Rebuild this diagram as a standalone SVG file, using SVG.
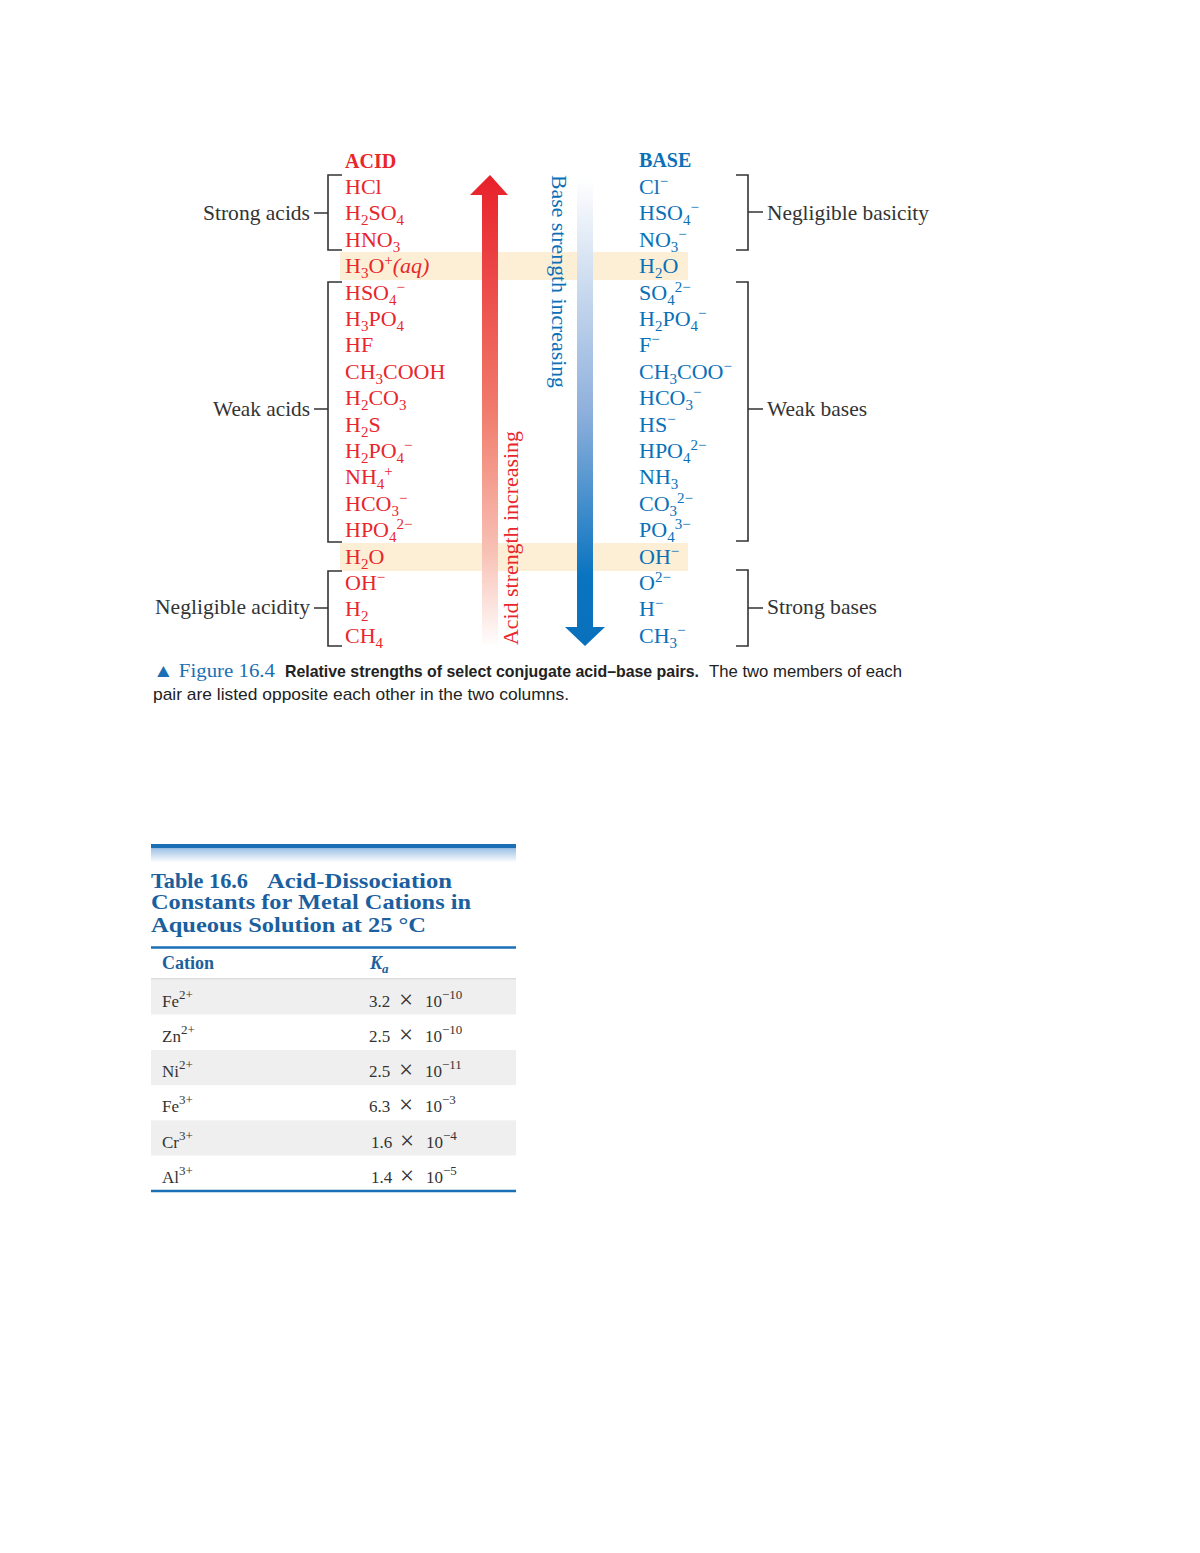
<svg xmlns="http://www.w3.org/2000/svg" width="1200" height="1553" viewBox="0 0 1200 1553">
<style>
.acid{font-family:"Liberation Serif",serif;font-size:22px;fill:#e8262b}
.base{font-family:"Liberation Serif",serif;font-size:22px;fill:#0a70b8}
.s{font-size:15px}
.hdr{font-weight:bold;font-size:20px}
.lbl{font-family:"Liberation Serif",serif;font-size:21px;fill:#333}
.br{fill:none;stroke:#333;stroke-width:1.6}
.hl{fill:#fcefd6}
.cap{font-family:"Liberation Sans",sans-serif;font-size:17px;fill:#222}
.tt{font-family:"Liberation Serif",serif;font-weight:bold;font-size:20px;fill:#1c5f9e}
.th{font-family:"Liberation Serif",serif;font-weight:bold;font-size:18px;fill:#1c5f9e}
.td{font-family:"Liberation Serif",serif;font-size:17px;fill:#333}
.sp{font-size:13px}
.x{font-size:25px}
.band{fill:#efefef}
</style>
<defs>
<linearGradient id="gRed" gradientUnits="userSpaceOnUse" x1="0" y1="175" x2="0" y2="648">
<stop offset="0" stop-color="#e8202a"/>
<stop offset="0.5" stop-color="#f07c6c"/>
<stop offset="0.8" stop-color="#f8c2b6"/>
<stop offset="1" stop-color="#ffffff"/>
</linearGradient>
<linearGradient id="gBlue" gradientUnits="userSpaceOnUse" x1="0" y1="178" x2="0" y2="646">
<stop offset="0" stop-color="#ffffff"/>
<stop offset="0.5" stop-color="#8eb0dc"/>
<stop offset="0.85" stop-color="#0a74c0"/>
<stop offset="1" stop-color="#0a70bc"/>
</linearGradient>
<linearGradient id="gBar" x1="0" y1="0" x2="0" y2="1">
<stop offset="0" stop-color="#9fc2e6"/>
<stop offset="1" stop-color="#ffffff"/>
</linearGradient>
</defs>

<g id="highlights">
<rect class="hl" x="340" y="252" width="348" height="28"/>
<rect class="hl" x="340" y="543" width="348" height="28"/>
</g>

<g id="connectors">
<path id="acid-arrow" d="M490,175 L508,195 L498,195 L498,645 L482,645 L482,195 L470,195 Z" fill="url(#gRed)"/>
<path id="base-arrow" d="M577,178 L593,178 L593,627 L605,627 L585,646 L565,627 L577,627 Z" fill="url(#gBlue)"/>
<path class="br" d="M342,175 H328 V250 H342 M328,213 H314"/>
<path class="br" d="M342,282 H328 V542 H342 M328,409 H314"/>
<path class="br" d="M342,571 H328 V646 H342 M328,608 H314"/>
<path class="br" d="M736,175 H748 V250 H736 M748,212 H763"/>
<path class="br" d="M736,282 H748 V541 H736 M748,409 H763"/>
<path class="br" d="M736,570 H748 V646 H736 M748,608 H763"/>
</g>

<g id="arrow-labels">
<text transform="translate(518,645) rotate(-90)" font-family="Liberation Serif,serif" font-size="21" fill="#e8262b" textLength="214" lengthAdjust="spacingAndGlyphs">Acid strength increasing</text>
<text transform="translate(552,175) rotate(90)" font-family="Liberation Serif,serif" font-size="21" fill="#0a70b8" textLength="213" lengthAdjust="spacingAndGlyphs">Base strength increasing</text>
</g>

<g id="group-labels">
<text class="lbl" x="203" y="220" textLength="107" lengthAdjust="spacingAndGlyphs">Strong acids</text>
<text class="lbl" x="213" y="416" textLength="97" lengthAdjust="spacingAndGlyphs">Weak acids</text>
<text class="lbl" x="155" y="614" textLength="155" lengthAdjust="spacingAndGlyphs">Negligible acidity</text>
<text class="lbl" x="767" y="220" textLength="162" lengthAdjust="spacingAndGlyphs">Negligible basicity</text>
<text class="lbl" x="767" y="416" textLength="100" lengthAdjust="spacingAndGlyphs">Weak bases</text>
<text class="lbl" x="767" y="614" textLength="110" lengthAdjust="spacingAndGlyphs">Strong bases</text>
</g>

<g id="acid-column">
<text class="acid hdr" x="345" y="168">ACID</text>
<text class="acid" x="345" y="194">HCl</text>
<text class="acid" x="345" y="220">H<tspan class="s" dy="5">2</tspan><tspan dy="-5">SO</tspan><tspan class="s" dy="5">4</tspan></text>
<text class="acid" x="345" y="247">HNO<tspan class="s" dy="5">3</tspan></text>
<text class="acid" x="345" y="273">H<tspan class="s" dy="5">3</tspan><tspan dy="-5">O</tspan><tspan class="s" dy="-8">+</tspan><tspan dy="8" font-style="italic">(aq)</tspan></text>
<text class="acid" x="345" y="300">HSO<tspan class="s" dy="5">4</tspan><tspan class="s" dy="-13">−</tspan></text>
<text class="acid" x="345" y="326">H<tspan class="s" dy="5">3</tspan><tspan dy="-5">PO</tspan><tspan class="s" dy="5">4</tspan></text>
<text class="acid" x="345" y="352">HF</text>
<text class="acid" x="345" y="379">CH<tspan class="s" dy="5">3</tspan><tspan dy="-5">COOH</tspan></text>
<text class="acid" x="345" y="405">H<tspan class="s" dy="5">2</tspan><tspan dy="-5">CO</tspan><tspan class="s" dy="5">3</tspan></text>
<text class="acid" x="345" y="432">H<tspan class="s" dy="5">2</tspan><tspan dy="-5">S</tspan></text>
<text class="acid" x="345" y="458">H<tspan class="s" dy="5">2</tspan><tspan dy="-5">PO</tspan><tspan class="s" dy="5">4</tspan><tspan class="s" dy="-13">−</tspan></text>
<text class="acid" x="345" y="484">NH<tspan class="s" dy="5">4</tspan><tspan class="s" dy="-13">+</tspan></text>
<text class="acid" x="345" y="511">HCO<tspan class="s" dy="5">3</tspan><tspan class="s" dy="-13">−</tspan></text>
<text class="acid" x="345" y="537">HPO<tspan class="s" dy="5">4</tspan><tspan class="s" dy="-13">2−</tspan></text>
<text class="acid" x="345" y="564">H<tspan class="s" dy="5">2</tspan><tspan dy="-5">O</tspan></text>
<text class="acid" x="345" y="590">OH<tspan class="s" dy="-8">−</tspan></text>
<text class="acid" x="345" y="616">H<tspan class="s" dy="5">2</tspan></text>
<text class="acid" x="345" y="643">CH<tspan class="s" dy="5">4</tspan></text>
</g>

<g id="base-column">
<text class="base hdr" x="639" y="167">BASE</text>
<text class="base" x="639" y="194">Cl<tspan class="s" dy="-8">−</tspan></text>
<text class="base" x="639" y="220">HSO<tspan class="s" dy="5">4</tspan><tspan class="s" dy="-13">−</tspan></text>
<text class="base" x="639" y="247">NO<tspan class="s" dy="5">3</tspan><tspan class="s" dy="-13">−</tspan></text>
<text class="base" x="639" y="273">H<tspan class="s" dy="5">2</tspan><tspan dy="-5">O</tspan></text>
<text class="base" x="639" y="300">SO<tspan class="s" dy="5">4</tspan><tspan class="s" dy="-13">2−</tspan></text>
<text class="base" x="639" y="326">H<tspan class="s" dy="5">2</tspan><tspan dy="-5">PO</tspan><tspan class="s" dy="5">4</tspan><tspan class="s" dy="-13">−</tspan></text>
<text class="base" x="639" y="352">F<tspan class="s" dy="-8">−</tspan></text>
<text class="base" x="639" y="379">CH<tspan class="s" dy="5">3</tspan><tspan dy="-5">COO</tspan><tspan class="s" dy="-8">−</tspan></text>
<text class="base" x="639" y="405">HCO<tspan class="s" dy="5">3</tspan><tspan class="s" dy="-13">−</tspan></text>
<text class="base" x="639" y="432">HS<tspan class="s" dy="-8">−</tspan></text>
<text class="base" x="639" y="458">HPO<tspan class="s" dy="5">4</tspan><tspan class="s" dy="-13">2−</tspan></text>
<text class="base" x="639" y="484">NH<tspan class="s" dy="5">3</tspan></text>
<text class="base" x="639" y="511">CO<tspan class="s" dy="5">3</tspan><tspan class="s" dy="-13">2−</tspan></text>
<text class="base" x="639" y="537">PO<tspan class="s" dy="5">4</tspan><tspan class="s" dy="-13">3−</tspan></text>
<text class="base" x="639" y="564">OH<tspan class="s" dy="-8">−</tspan></text>
<text class="base" x="639" y="590">O<tspan class="s" dy="-8">2−</tspan></text>
<text class="base" x="639" y="616">H<tspan class="s" dy="-8">−</tspan></text>
<text class="base" x="639" y="643">CH<tspan class="s" dy="5">3</tspan><tspan class="s" dy="-13">−</tspan></text>
</g>

<g id="caption">
<text x="153" y="677" font-family="Liberation Serif,serif" font-size="19" fill="#1a6fb5" textLength="122" lengthAdjust="spacingAndGlyphs">▲ Figure 16.4</text>
<text class="cap" x="285" y="677" font-weight="bold" textLength="414" lengthAdjust="spacingAndGlyphs">Relative strengths of select conjugate acid–base pairs.</text>
<text class="cap" x="709" y="677" textLength="193" lengthAdjust="spacingAndGlyphs">The two members of each</text>
<text class="cap" x="153" y="700" textLength="416" lengthAdjust="spacingAndGlyphs">pair are listed opposite each other in the two columns.</text>
</g>

<g id="table">
<rect x="151" y="844" width="365" height="4.5" fill="#1a6fb5"/>
<rect x="151" y="848.5" width="365" height="14" fill="url(#gBar)"/>
<text class="tt" x="151" y="888" textLength="97" lengthAdjust="spacingAndGlyphs">Table 16.6</text>
<text class="tt" x="267" y="888" textLength="185" lengthAdjust="spacingAndGlyphs">Acid-Dissociation</text>
<text class="tt" x="151" y="909" textLength="320" lengthAdjust="spacingAndGlyphs">Constants for Metal Cations in</text>
<text class="tt" x="151" y="932" textLength="275" lengthAdjust="spacingAndGlyphs">Aqueous Solution at 25 °C</text>
<line x1="151" y1="947.5" x2="516" y2="947.5" stroke="#1a6fb5" stroke-width="2.5"/>
<text class="th" x="162" y="969">Cation</text>
<text class="th" x="370" y="969" font-style="italic">K<tspan font-size="13" dy="4">a</tspan></text>
<line x1="151" y1="979" x2="516" y2="979" stroke="#bbbbbb" stroke-width="1"/>
<rect class="band" x="151" y="979.5" width="365" height="35"/>
<rect class="band" x="151" y="1049.9" width="365" height="35.2"/>
<rect class="band" x="151" y="1120.3" width="365" height="35.2"/>
<g id="row1">
<text class="td" x="162" y="1007">Fe<tspan class="sp" dy="-8">2+</tspan></text>
<text class="td" x="369" y="1007">3.2<tspan class="x" x="399" dy="1">×</tspan><tspan x="425" dy="-1">10</tspan><tspan class="sp" dy="-8">−10</tspan></text>
</g>
<g id="row2">
<text class="td" x="162" y="1042">Zn<tspan class="sp" dy="-8">2+</tspan></text>
<text class="td" x="369" y="1042">2.5<tspan class="x" x="399" dy="1">×</tspan><tspan x="425" dy="-1">10</tspan><tspan class="sp" dy="-8">−10</tspan></text>
</g>
<g id="row3">
<text class="td" x="162" y="1077">Ni<tspan class="sp" dy="-8">2+</tspan></text>
<text class="td" x="369" y="1077">2.5<tspan class="x" x="399" dy="1">×</tspan><tspan x="425" dy="-1">10</tspan><tspan class="sp" dy="-8">−11</tspan></text>
</g>
<g id="row4">
<text class="td" x="162" y="1112">Fe<tspan class="sp" dy="-8">3+</tspan></text>
<text class="td" x="369" y="1112">6.3<tspan class="x" x="399" dy="1">×</tspan><tspan x="425" dy="-1">10</tspan><tspan class="sp" dy="-8">−3</tspan></text>
</g>
<g id="row5">
<text class="td" x="162" y="1148">Cr<tspan class="sp" dy="-8">3+</tspan></text>
<text class="td" x="371" y="1148">1.6<tspan class="x" x="400" dy="1">×</tspan><tspan x="426" dy="-1">10</tspan><tspan class="sp" dy="-8">−4</tspan></text>
</g>
<g id="row6">
<text class="td" x="162" y="1183">Al<tspan class="sp" dy="-8">3+</tspan></text>
<text class="td" x="371" y="1183">1.4<tspan class="x" x="400" dy="1">×</tspan><tspan x="426" dy="-1">10</tspan><tspan class="sp" dy="-8">−5</tspan></text>
</g>
<line x1="151" y1="1191" x2="516" y2="1191" stroke="#1a6fb5" stroke-width="2.5"/>
</g>
</svg>
